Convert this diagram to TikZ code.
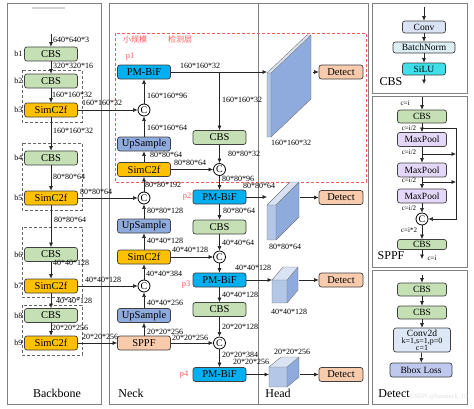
\documentclass[tikz,border=0pt]{standalone}
\usepackage{fontspec}
\setmainfont{Liberation Serif}
\newfontfamily\cjkf{Noto Sans CJK SC}
\usetikzlibrary{arrows.meta}
\definecolor{cbsg}{HTML}{C5E0B4}
\definecolor{simy}{HTML}{FFC000}
\definecolor{upb}{HTML}{8FAADC}
\definecolor{pmbc}{HTML}{00B0F0}
\definecolor{sppfc}{HTML}{F8CBAD}
\definecolor{mpc}{HTML}{E4D7F7}
\definecolor{convc}{HTML}{DAE3F3}
\definecolor{bnc}{HTML}{DAEEF3}
\definecolor{siluc}{HTML}{3FE0EA}
\definecolor{bboxc}{HTML}{BFC9EE}
\definecolor{cvdc}{HTML}{DDE7F5}
\definecolor{cubeside}{HTML}{8FAADC}
\definecolor{cubefront}{HTML}{B4C7E7}
\definecolor{cubetop}{HTML}{DAE3F3}
\definecolor{redl}{HTML}{FF5A5A}
\begin{document}
\begin{tikzpicture}[x=1pt,y=-1pt,
 blk/.style={draw=black!75, line width=0.7pt, rounded corners=2.5pt, minimum width=53pt, minimum height=14pt, inner sep=0pt, font=\fontsize{10.5}{11}\selectfont},
 cbs/.style={blk, fill=cbsg},
 sim/.style={blk, fill=simy},
 ups/.style={blk, fill=upb},
 pmb/.style={blk, fill=pmbc},
 spp/.style={blk, fill=sppfc},
 det/.style={blk, fill=sppfc, minimum width=44pt},
 small/.style={blk, minimum width=49pt, minimum height=13pt, font=\fontsize{9.5}{10}\selectfont},
 cat/.style={circle, draw=black, line width=0.8pt, fill=white, minimum size=12pt, inner sep=0pt, font=\fontsize{10}{10}\selectfont},
 lab/.style={font=\fontsize{8}{8}\selectfont, inner sep=0pt, anchor=west},
 clab/.style={font=\fontsize{8}{8}\selectfont, inner sep=0pt},
 slab/.style={font=\fontsize{7}{7}\selectfont, inner sep=0pt},
 arr/.style={-{Latex[length=4.5pt,width=4pt]}, line width=0.6pt, black!85},
 panel/.style={draw=black!50, line width=0.9pt},
 grp/.style={draw=black!60, line width=0.7pt, dash pattern=on 3pt off 2pt},
 plab/.style={text=redl, font=\fontsize{8.5}{9}\selectfont, inner sep=0pt},
 ttl/.style={font=\fontsize{12}{12}\selectfont, inner sep=0pt},
 cube/.style={draw=black!55, line width=0.4pt}
]
\useasboundingbox (0,0) rectangle (474,408);
\fill[white] (0,0) rectangle (474,408);
% panels
\draw[panel] (7,3) rectangle (101,404);
\draw[panel] (109,3) rectangle (258,404);
\draw[panel] (258,3) rectangle (368,404);
\draw[panel] (372,3) rectangle (467,93);
\draw[panel] (372,96) rectangle (467,267);
\draw[panel] (372,270) rectangle (467,404);
\draw[gray!35, line width=1.5pt] (32,8) -- (65,8);
% red dashed region
\draw[redl, line width=0.7pt, dash pattern=on 3pt off 2pt] (115,33) rectangle (366,182);
\node[text=redl, font=\cjkf\fontsize{8}{8}\selectfont, inner sep=0pt] at (135,39) {小规模};
\node[text=redl, font=\cjkf\fontsize{8}{8}\selectfont, inner sep=0pt] at (180,39) {检测层};
% backbone groups
\draw[grp] (22,70) rectangle (82,122);
\draw[grp] (22,143) rectangle (82,210);
\draw[grp] (22,227) rectangle (82,297);
\draw[grp] (22,305) rectangle (82,355);
% backbone nodes
\node[cbs] (b1) at (51,54) {CBS};
\node[cbs] (b2) at (51,81) {CBS};
\node[sim] (b3) at (51,110) {SimC2f};
\node[cbs] (b4) at (51,158) {CBS};
\node[sim] (b5) at (51,198) {SimC2f};
\node[cbs] (b6) at (51,254.5) {CBS};
\node[sim] (b7) at (51,286) {SimC2f};
\node[cbs] (b8) at (51,315.5) {CBS};
\node[sim] (b9) at (51,343) {SimC2f};
\foreach \n/\y in {1/54,2/81,3/110,4/158,5/198,6/254.5,7/286,8/315.5,9/343}
  \node[clab, anchor=east] at (22.5,\y) {b\n};
\coordinate (bin) at (51,34);
\draw[arr] (bin) -- (b1);
\draw[arr] (b1) -- (b2);
\draw[arr] (b2) -- (b3);
\draw[arr] (b3) -- (b4);
\draw[arr] (b4) -- (b5);
\draw[arr] (b5) -- (b6);
\draw[arr] (b6) -- (b7);
\draw[arr] (b7) -- (b8);
\draw[arr] (b8) -- (b9);
\node[lab] at (53,40) {640*640*3};
\node[lab] at (53,66) {320*320*16};
\node[lab] at (52,95) {160*160*32};
\node[lab] at (53,131) {160*160*32};
\node[lab] at (53,177) {80*80*64};
\node[lab] at (54,220) {80*80*64};
\node[lab] at (53,263) {40*40*128};
\node[lab] at (56,301) {40*40*128};
\node[lab] at (52,328) {20*20*256};
% neck left column
\node[pmb] (pm1) at (144,72) {PM-BiF};
\node[cat] (cl1) at (144,110) {C};
\node[ups] (up1) at (144,144) {UpSample};
\node[sim] (sc1) at (144,169.5) {SimC2f};
\node[cat] (cl2) at (144,198) {C};
\node[ups] (up2) at (144,226) {UpSample};
\node[sim] (sc2) at (144,257) {SimC2f};
\node[cat] (cl3) at (144,286) {C};
\node[ups] (up3) at (144,315.5) {UpSample};
\node[spp] (sppf) at (144,343) {SPPF};
% neck right column
\node[cbs] (r1) at (219.5,137.5) {CBS};
\node[cat] (cr1) at (219.5,169.5) {C};
\node[pmb] (pm2) at (219.5,197) {PM-BiF};
\node[cbs] (r2) at (219.5,227) {CBS};
\node[cat] (cr2) at (219.5,257) {C};
\node[pmb] (pm3) at (219.5,280) {PM-BiF};
\node[cbs] (r3) at (219.5,309.5) {CBS};
\node[cat] (cr3) at (219.5,343) {C};
\node[pmb] (pm4) at (219.5,374.5) {PM-BiF};
\node[plab] at (130,57) {p1};
\node[plab] at (187,197) {p2};
\node[plab] at (186,285) {p3};
\node[plab] at (184,375) {p4};
% backbone -> neck
\draw[arr] (b3) -- (cl1);
\draw[arr] (b5) -- (cl2);
\draw[arr] (b7) -- (cl3);
\draw[arr] (b9) -- (sppf);
\node[lab] at (82,103) {160*160*32};
\node[lab] at (80,192) {80*80*64};
\node[lab] at (85,280) {40*40*128};
\node[lab] at (82,337) {20*20*256};
% neck left connectors
\draw[arr] (cl1) -- (pm1);
\draw[arr] (up1) -- (cl1);
\draw[arr] (sc1) -- (up1);
\draw[arr] (cl2) -- (sc1);
\draw[arr] (up2) -- (cl2);
\draw[arr] (sc2) -- (up2);
\draw[arr] (cl3) -- (sc2);
\draw[arr] (up3) -- (cl3);
\draw[arr] (sppf) -- (up3);
\node[lab] at (147,96) {160*160*96};
\node[lab] at (147,128) {160*160*64};
\node[lab] at (150,155) {80*80*64};
\node[lab] at (145,185) {80*80*192};
\node[lab] at (147,211) {80*80*128};
\node[lab] at (147,241) {40*40*128};
\node[lab] at (146,274) {40*40*384};
\node[lab] at (147,303) {40*40*256};
\node[lab] at (147,332) {20*20*256};
% neck right connectors
\coordinate (c1in) at (267,72);
\coordinate (c2in) at (267,197);
\coordinate (c3in) at (272,280);
\coordinate (c4in) at (269,374.5);
\coordinate (j1) at (219.5,72);
\draw[arr] (pm1) -- (c1in);
\draw[arr] (j1) -- (r1);
\draw[arr] (r1) -- (cr1);
\draw[arr] (sc1) -- (cr1);
\draw[arr] (cr1) -- (pm2);
\draw[arr] (pm2) -- (c2in);
\draw[arr] (pm2) -- (r2);
\draw[arr] (r2) -- (cr2);
\draw[arr] (sc2) -- (cr2);
\draw[arr] (cr2) -- (pm3);
\draw[arr] (pm3) -- (c3in);
\draw[arr] (pm3) -- (r3);
\draw[arr] (r3) -- (cr3);
\draw[arr] (sppf) -- (cr3);
\draw[arr] (cr3) -- (pm4);
\draw[arr] (pm4) -- (c4in);
\node[lab] at (180,66) {160*160*32};
\node[lab] at (222,100) {160*160*32};
\node[lab] at (228,154) {80*80*32};
\node[lab] at (174,163) {80*80*64};
\node[lab] at (222,179) {80*80*96};
\node[lab] at (243,186) {80*80*64};
\node[lab] at (223,211) {80*80*64};
\node[lab] at (222,243) {40*40*64};
\node[lab] at (172,250) {40*40*128};
\node[lab] at (235,268) {40*40*128};
\node[lab] at (222,295) {40*40*128};
\node[lab] at (222,327) {20*20*128};
\node[lab] at (172,338) {20*20*256};
\node[lab] at (222,355) {20*20*384};
\node[lab] at (233,362) {20*20*256};
% head cubes
\fill[cubeside] (271,73) -- (311,35) -- (311,99) -- (271,137) -- cycle;
\fill[cubetop] (267,73) -- (271,73) -- (311,35) -- (307,35) -- cycle;
\fill[cubefront] (267,73) rectangle (271,137);
\draw[cube] (267,73) -- (307,35) -- (311,35) -- (311,99) -- (271,137) -- (267,137) -- cycle (267,73) -- (271,73) -- (271,137) (271,73) -- (311,35);
\fill[cubeside] (276,205) -- (299,182) -- (299,217) -- (276,240) -- cycle;
\fill[cubetop] (267,205) -- (276,205) -- (299,182) -- (290,182) -- cycle;
\fill[cubefront] (267,205) rectangle (276,240);
\draw[cube] (267,205) -- (290,182) -- (299,182) -- (299,217) -- (276,240) -- (267,240) -- cycle (267,205) -- (276,205) -- (276,240) (276,205) -- (299,182);
\fill[cubeside] (287,280) -- (298,267) -- (298,290) -- (287,303) -- cycle;
\fill[cubetop] (272,280) -- (287,280) -- (298,267) -- (283,267) -- cycle;
\fill[cubefront] (272,280) rectangle (287,303);
\draw[cube] (272,280) -- (283,267) -- (298,267) -- (298,290) -- (287,303) -- (272,303) -- cycle (272,280) -- (287,280) -- (287,303) (287,280) -- (298,267);
\fill[cubeside] (287,367) -- (299,357) -- (299,377) -- (287,387) -- cycle;
\fill[cubetop] (269,367) -- (287,367) -- (299,357) -- (281,357) -- cycle;
\fill[cubefront] (269,367) rectangle (287,387);
\draw[cube] (269,367) -- (281,357) -- (299,357) -- (299,377) -- (287,387) -- (269,387) -- cycle (269,367) -- (287,367) -- (287,387) (287,367) -- (299,357);
\node[clab] at (291,143) {160*160*32};
\node[clab] at (285,247) {80*80*64};
\node[clab] at (289,312) {40*40*128};
\node[clab] at (292,352) {20*20*256};
\node[det] (d1) at (341,72) {Detect};
\node[det] (d2) at (341,197.5) {Detect};
\node[det] (d3) at (341,280) {Detect};
\node[det] (d4) at (341,374.5) {Detect};
\coordinate (c1out) at (313,72);
\coordinate (c2out) at (300,197.5);
\coordinate (c3out) at (299,280);
\coordinate (c4out) at (300,374.5);
\draw[arr] (c1out) -- (d1);
\draw[arr] (c2out) -- (d2);
\draw[arr] (c3out) -- (d3);
\draw[arr] (c4out) -- (d4);
% titles
\node[ttl] at (57,393) {Backbone};
\node[ttl] at (131,393) {Neck};
\node[ttl] at (278,393) {Head};
\node[ttl] at (391,82) {CBS};
\node[ttl] at (391,256) {SPPF};
\node[ttl] at (394,394) {Detect};
% CBS panel
\node[small, fill=convc, minimum width=43pt, minimum height=12pt] (conv) at (424,27) {Conv};
\node[small, fill=bnc, minimum width=62pt, minimum height=11pt] (bn) at (424,47.5) {BatchNorm};
\node[small, fill=siluc, minimum width=43pt, minimum height=12pt] (silu) at (424,69) {SiLU};
\coordinate (cbsin) at (424,7);
\coordinate (cbsout) at (424,84);
\draw[arr] (cbsin) -- (conv);
\draw[arr] (conv) -- (bn);
\draw[arr] (bn) -- (silu);
\draw[arr] (silu) -- (cbsout);
% SPPF panel
\node[small, fill=cbsg] (s1) at (422,116.5) {CBS};
\node[small, fill=mpc, minimum height=14pt] (m1) at (422,139.5) {MaxPool};
\node[small, fill=mpc, minimum height=14pt] (m2) at (422,170) {MaxPool};
\node[small, fill=mpc, minimum height=14pt] (m3) at (422,196) {MaxPool};
\node[cat] (sc) at (422,219) {C};
\node[small, fill=cbsg, minimum height=10pt] (s2) at (422,244.5) {CBS};
\coordinate (sin) at (422,97);
\coordinate (sout) at (422,259);
\coordinate (k0) at (422,128);
\coordinate (k0r) at (456,128);
\coordinate (kb) at (456,219);
\coordinate (k1) at (422,154);
\coordinate (k1r) at (456,154);
\coordinate (k2) at (422,182);
\coordinate (k2r) at (456,182);
\draw[arr] (sin) -- (s1);
\draw[arr] (s1) -- (m1);
\draw[arr] (m1) -- (m2);
\draw[arr] (m2) -- (m3);
\draw[arr] (m3) -- (sc);
\draw[arr] (sc) -- (s2);
\draw[arr] (s2) -- (sout);
\draw[arr] (k0) -- (k0r) -- (kb) -- (sc);
\draw[arr] (k1) -- (k1r);
\draw[arr] (k2) -- (k2r);
\node[slab] at (405,103) {c=i};
\node[slab] at (409,128) {c=i/2};
\node[slab] at (409,152) {c=i/2};
\node[slab] at (409,180) {c=i/2};
\node[slab] at (409,208) {c=i/2};
\node[slab] at (409,230) {c=i*2};
\node[slab] at (432,258) {c=i};
% Detect panel
\node[small, fill=cbsg] (e1) at (422,289.5) {CBS};
\node[small, fill=cbsg] (e2) at (422,312.5) {CBS};
\node[small, fill=cvdc, minimum width=57pt, minimum height=24pt, align=center, font=\fontsize{8}{7}\selectfont] (cv) at (422,340) {{\fontsize{9.5}{8}\selectfont Conv2d}\\k=1,s=1,p=0\\c=1};
\node[small, fill=bboxc, minimum width=62pt, minimum height=14pt] (bb) at (421,370) {Bbox Loss};
\coordinate (din) at (422,275);
\draw[arr] (din) -- (e1);
\draw[arr] (e1) -- (e2);
\draw[arr] (e2) -- (cv);
\draw[arr] (cv) -- (bb);
\node[text=gray!25, font=\fontsize{6.5}{7}\selectfont, anchor=west, inner sep=0pt] at (410,397) {CSDN @lumbuck\_10};
\end{tikzpicture}
\end{document}
